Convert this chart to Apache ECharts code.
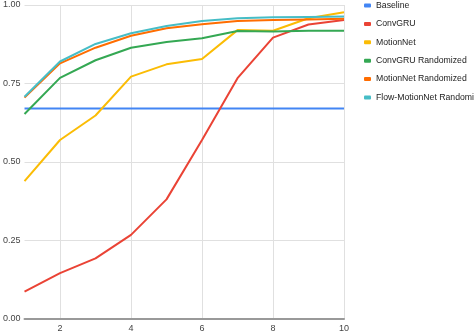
<!DOCTYPE html>
<html>
<head>
<meta charset="utf-8">
<script src="https://cdn.jsdelivr.net/npm/echarts@6/dist/echarts.min.js"></script>
<style>
  html, body { margin: 0; padding: 0; background: #fff; }
  #chart { width: 474px; height: 334px; }
</style>
</head>
<body>
<div id="chart"></div>
<script>
// Epochs along the horizontal axis
const epochs = ['1', '2', '3', '4', '5', '6', '7', '8', '9', '10'];

// Accuracy per epoch for each model
const baseline = [0.67, 0.67, 0.67, 0.67, 0.67, 0.67, 0.67, 0.67, 0.67, 0.67];
const convGRU = [0.087, 0.146, 0.193, 0.268, 0.381, 0.57, 0.767, 0.896, 0.938, 0.952];
const motionNet = [0.439, 0.570, 0.648, 0.772, 0.811, 0.828, 0.920, 0.918, 0.958, 0.977];
const convGRURandomized = [0.653, 0.768, 0.824, 0.864, 0.882, 0.894, 0.917, 0.916, 0.918, 0.918];
const motionNetRandomized = [0.705, 0.814, 0.864, 0.902, 0.926, 0.939, 0.949, 0.952, 0.954, 0.956];
const flowMotionNetRandomized = [0.708, 0.820, 0.876, 0.910, 0.933, 0.949, 0.958, 0.961, 0.962, 0.963];

const seriesDefs = [
  { name: 'Baseline', data: baseline, color: '#4285F4' },
  { name: 'ConvGRU', data: convGRU, color: '#EA4335' },
  { name: 'MotionNet', data: motionNet, color: '#FBBC04' },
  { name: 'ConvGRU Randomized', data: convGRURandomized, color: '#34A853' },
  { name: 'MotionNet Randomized', data: motionNetRandomized, color: '#FF6D01' },
  { name: 'Flow-MotionNet Randomized', data: flowMotionNetRandomized, color: '#46BDC6' }
];

const font = '"Liberation Sans", Arial, sans-serif';
const chart = echarts.init(document.getElementById('chart'), null, { renderer: 'canvas' });

chart.setOption({
  animation: false,
  backgroundColor: '#ffffff',
  grid: { left: 19, right: 130, top: 5, bottom: 15, containLabel: false },
  legend: {
    orient: 'vertical',
    left: 364,
    top: 0,
    padding: 0,
    icon: 'roundRect',
    itemWidth: 7,
    itemHeight: 4,
    itemGap: 7.4,
    textStyle: { fontFamily: font, fontSize: 8.7, color: '#222', lineHeight: 11 },
    data: seriesDefs.map(s => s.name)
  },
  xAxis: {
    type: 'category',
    data: epochs,
    boundaryGap: false,
    axisLine: { show: true, lineStyle: { color: '#999', width: 2 } },
    axisTick: { show: false },
    axisLabel: {
      interval: (i, v) => Number(v) % 2 === 0,
      fontFamily: font, fontSize: 9, color: '#444', margin: 5
    },
    splitLine: {
      show: true,
      interval: (i, v) => Number(v) % 2 === 0,
      lineStyle: { color: '#e0e0e0', width: 1 }
    }
  },
  yAxis: {
    type: 'value',
    min: 0, max: 1, interval: 0.25,
    axisLine: { show: false },
    axisTick: { show: false },
    axisLabel: {
      fontFamily: font, fontSize: 9, color: '#444', margin: 4,
      formatter: v => v.toFixed(2)
    },
    splitLine: { lineStyle: { color: '#e0e0e0', width: 1 } }
  },
  series: seriesDefs.map(s => ({
    name: s.name,
    type: 'line',
    data: s.data,
    showSymbol: false,
    symbol: 'none',
    lineStyle: { color: s.color, width: 2 },
    itemStyle: { color: s.color },
    emphasis: { disabled: true }
  }))
});
</script>
</body>
</html>
